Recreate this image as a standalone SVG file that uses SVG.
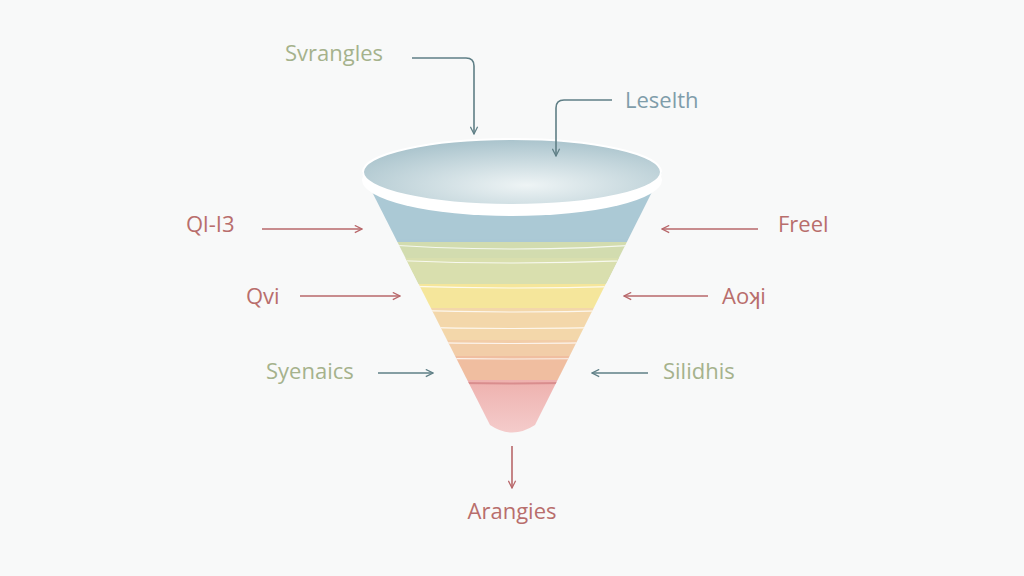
<svg xmlns="http://www.w3.org/2000/svg" width="1024" height="576" viewBox="0 0 1024 576">
<defs>
<style>
text{font-family:"Open Sans","Liberation Sans",sans-serif;font-size:22px}
.g{fill:#a5b28c}.b{fill:#7f9daa}.r{fill:#b86e6c}
.cr{stroke:#b8676a;stroke-width:1.6;fill:none}
.cb{stroke:#5f7f86;stroke-width:1.6;fill:none}
</style>
<marker id="ar" viewBox="0 0 10 10" refX="9" refY="5" markerWidth="9" markerHeight="9" markerUnits="userSpaceOnUse" orient="auto"><path d="M1,1 L9,5 L1,9" fill="none" stroke="#b8676a" stroke-width="1.4"/></marker>
<marker id="ab" viewBox="0 0 10 10" refX="9" refY="5" markerWidth="9" markerHeight="9" markerUnits="userSpaceOnUse" orient="auto"><path d="M1,1 L9,5 L1,9" fill="none" stroke="#5f7f86" stroke-width="1.4"/></marker>
<clipPath id="cone"><path d="M362,172 L662,172 L535,425 Q512,440 490,425 Z"/></clipPath>
<radialGradient id="top" cx="0.55" cy="0.7" r="0.7"><stop offset="0" stop-color="#eef4f5"/><stop offset="1" stop-color="#a9c3cc"/></radialGradient>
<linearGradient id="pink" x1="0" y1="0" x2="0" y2="1"><stop offset="0" stop-color="#eeb1ae"/><stop offset="1" stop-color="#f5cfcf"/></linearGradient>
</defs>
<rect width="1024" height="576" fill="#f8f9f9"/>
<g id="funnel">
<g clip-path="url(#cone)">
<rect x="350" y="170" width="330" height="72" fill="#abc9d5"/>
<rect x="350" y="242" width="330" height="42" fill="#d2ddb0"/>
<rect x="350" y="258" width="330" height="26" fill="#d9dfae"/>
<rect x="350" y="284" width="330" height="24" fill="#f6e79c"/>
<rect x="350" y="308" width="330" height="32" fill="#f3d8ab"/>
<rect x="350" y="340" width="330" height="16" fill="#f2cda8"/>
<rect x="350" y="356" width="330" height="24" fill="#f0bea0"/>
<rect x="350" y="380" width="330" height="60" fill="url(#pink)"/>
<g stroke="#fff" stroke-width="1.2" opacity="0.8" fill="none">
<path d="M350,242 Q512,256 680,242"/><path d="M350,258 Q512,268 680,258"/><path d="M350,284 Q512,292 680,284"/>
<path d="M350,308 Q512,316 680,308"/><path d="M350,325 Q512,332 680,325"/><path d="M350,340 Q512,347 680,340"/><path d="M350,356 Q512,362 680,356"/>
</g>
<path d="M350,379 Q512,388 680,379" stroke="#d98d8d" stroke-width="2" fill="none"/>
</g>
<ellipse cx="512" cy="180" rx="150" ry="36" fill="#fff"/>
<ellipse cx="512" cy="172" rx="149" ry="33" fill="url(#top)" stroke="#fff" stroke-width="2"/>
</g>
<g id="labels">
<text class="g" x="285" y="61">Svrangles</text>
<text class="b" x="625" y="108">Leselth</text>
<text class="r" x="186" y="232">Ql-I3</text>
<text class="r" x="778" y="232">Freel</text>
<text class="r" x="246" y="304">Qvi</text>
<text class="r" x="722" y="304">Aoʞi</text>
<text class="g" x="266" y="379">Syenaics</text>
<text class="g" x="663" y="379">Silidhis</text>
<text class="r" x="512" y="519" text-anchor="middle">Arangies</text>
</g>
<g id="connectors">
<path class="cb" d="M412,58 H466 Q474,58 474,66 V134" marker-end="url(#ab)"/>
<path class="cb" d="M612,100 H564 Q556,100 556,108 V156" marker-end="url(#ab)"/>
<path class="cr" d="M262,229 H362" marker-end="url(#ar)"/>
<path class="cr" d="M758,229 H662" marker-end="url(#ar)"/>
<path class="cr" d="M300,296 H400" marker-end="url(#ar)"/>
<path class="cr" d="M708,296 H624" marker-end="url(#ar)"/>
<path class="cb" d="M378,373 H433" marker-end="url(#ab)"/>
<path class="cb" d="M648,373 H592" marker-end="url(#ab)"/>
<path class="cr" d="M512,446 V488" marker-end="url(#ar)"/>
</g>
</svg>
